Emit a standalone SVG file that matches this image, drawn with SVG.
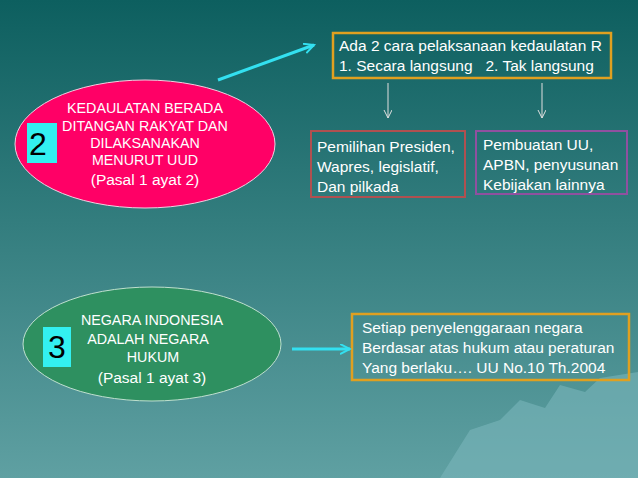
<svg xmlns="http://www.w3.org/2000/svg" width="638" height="478" viewBox="0 0 638 478">
<defs>
<linearGradient id="bg" x1="0" y1="0" x2="0" y2="1"><stop offset="0" stop-color="#0d5f5f"/><stop offset="1" stop-color="#5fa0a2"/></linearGradient>
<marker id="cy" markerWidth="12" markerHeight="12" refX="10" refY="5" orient="auto" markerUnits="userSpaceOnUse"><path d="M0,0 L10,5 L0,10" fill="none" stroke="#33e0f0" stroke-width="2"/></marker>
<marker id="wh" markerWidth="10" markerHeight="10" refX="8" refY="4" orient="auto" markerUnits="userSpaceOnUse"><path d="M0,0 L8,4 L0,8" fill="none" stroke="#e0e0e0" stroke-width="1"/></marker>
<style>
text{font-family:"Liberation Sans",Arial,sans-serif;fill:#fff;font-size:15.5px}
.e{font-size:14.3px;text-anchor:middle}
.p{font-size:15.5px}
.n{font-size:32px;fill:#000}
</style>
</defs>
<rect width="638" height="478" fill="url(#bg)"/>
<path d="M440,478 L470,430 L500,420 L520,400 L545,408 L560,385 L585,392 L600,378 L638,372 L638,478 Z" fill="#7ab6bb" opacity="0.6"/>
<g id="e1"><ellipse cx="145" cy="144" rx="130" ry="64" fill="#ff0066" stroke="#f0d0e0"/>
<text class="e" x="145" y="113">KEDAULATAN BERADA</text><text class="e" x="145" y="131">DITANGAN RAKYAT DAN</text><text class="e" x="145" y="148">DILAKSANAKAN</text><text class="e" x="145" y="165">MENURUT UUD</text><text class="e p" x="145" y="185">(Pasal 1 ayat 2)</text>
<rect x="27" y="123" width="30" height="40" fill="#33f0f0"/><text class="n" x="29" y="155">2</text></g>
<g id="e2"><ellipse cx="152" cy="344" rx="129" ry="57" fill="#2e9060" stroke="#c0e0d0"/>
<text class="e" x="152" y="325">NEGARA INDONESIA</text><text class="e" x="148" y="344">ADALAH NEGARA</text><text class="e" x="153" y="362">HUKUM</text><text class="e p" x="152" y="383">(Pasal 1 ayat 3)</text>
<rect x="43" y="327" width="28" height="40" fill="#33f0f0"/><text class="n" x="48" y="358">3</text></g>
<g id="b1"><rect x="333" y="33" width="278" height="45" fill="none" stroke="#e0a020" stroke-width="2.5"/>
<text x="339" y="51">Ada 2 cara pelaksanaan kedaulatan R</text><text x="339" y="71" xml:space="preserve">1. Secara langsung   2. Tak langsung</text></g>
<g id="b2"><rect x="311" y="131" width="154" height="66" fill="none" stroke="#b05050" stroke-width="2"/>
<text x="317" y="152">Pemilihan Presiden,</text><text x="317" y="172">Wapres, legislatif,</text><text x="317" y="192">Dan pilkada</text></g>
<g id="b3"><rect x="476" y="131" width="151" height="63" fill="none" stroke="#9050a0" stroke-width="2"/>
<text x="483" y="150">Pembuatan UU,</text><text x="483" y="170">APBN, penyusunan</text><text x="483" y="190">Kebijakan lainnya</text></g>
<g id="b4"><rect x="352" y="314" width="277" height="66" fill="none" stroke="#e0a020" stroke-width="2.5"/>
<text x="362" y="333">Setiap penyelenggaraan negara</text><text x="362" y="353">Berdasar atas hukum atau peraturan</text><text x="362" y="373">Yang berlaku…. UU No.10 Th.2004</text></g>
<g id="connectors">
<line x1="218" y1="80" x2="314" y2="45" stroke="#33e0f0" stroke-width="3" marker-end="url(#cy)"/>
<line x1="292" y1="349" x2="350" y2="349" stroke="#33e0f0" stroke-width="3" marker-end="url(#cy)"/>
<line x1="388" y1="83" x2="388" y2="118" stroke="#e0e0e0" marker-end="url(#wh)"/>
<line x1="542" y1="83" x2="542" y2="118" stroke="#e0e0e0" marker-end="url(#wh)"/>
</g>
</svg>
